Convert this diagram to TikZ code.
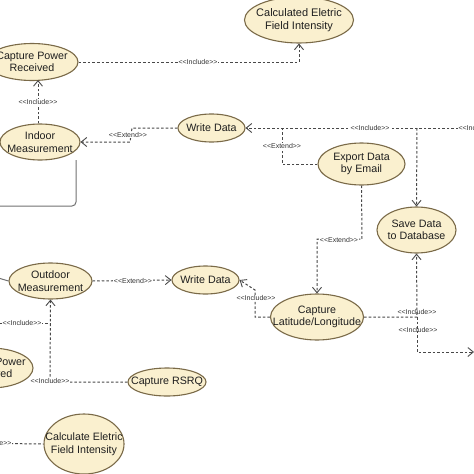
\documentclass[tikz,border=0pt]{standalone}
\usepackage{fontspec}
\setmainfont{Liberation Sans}
\newfontfamily\labfont{Liberation Sans}
\usetikzlibrary{shapes.geometric,arrows.meta}
\definecolor{ucfill}{HTML}{FAF0CF}
\definecolor{ucdraw}{HTML}{7A6A48}
\definecolor{lnc}{HTML}{484848}
\definecolor{boxc}{HTML}{707070}
\begin{document}
\begin{tikzpicture}[x=1pt,y=-1pt,
  uc/.style={ellipse, draw=ucdraw, fill=ucfill, line width=1.1pt, inner sep=0pt},
  uct/.style={align=center, font=\fontsize{10.7}{12.5}\selectfont, text=black!88, inner sep=0pt},
  rel/.style={draw=lnc, dash pattern=on 2.6pt off 2pt, line width=1pt},
  arr/.style={-{Straight Barb[length=5.5pt,width=9pt,line width=0.9pt]}},
  lab/.style={font=\labfont\fontsize{7}{8}\selectfont, text=black!80, inner sep=0.6pt},
  labf/.style={lab, fill=white},
  boxline/.style={draw=boxc, line width=1pt, rounded corners=4pt}
]
\useasboundingbox (0,0) rectangle (474,474);
\clip (0,0) rectangle (474,474);

% use cases
\node[uc, minimum width=109, minimum height=46, label={[uct,font=\fontsize{11}{12.5}\selectfont]center:{Calculated Eletric\\Field Intensity}}] (cefi1) at (299,20) {};
\node[uc, minimum width=92, minimum height=37, label={[uct]center:{Capture Power\\Received}}] (cpr1) at (32,62) {};
\node[uc, minimum width=80, minimum height=36, label={[uct]center:{Indoor\\Measurement}}] (ind) at (40,142) {};
\node[uc, minimum width=67, minimum height=28, label={[uct]center:{Write Data}}] (wd1) at (211.5,128) {};
\node[uc, minimum width=87, minimum height=42, label={[uct]center:{Export Data\\by Email}}] (exp) at (361.5,164) {};
\node[uc, minimum width=79, minimum height=46, label={[uct]center:{Save Data\\to Database}}] (save) at (416.5,230) {};
\node[uc, minimum width=83, minimum height=36, label={[uct]center:{Outdoor\\Measurement}}] (out) at (50.5,281) {};
\node[uc, minimum width=67, minimum height=28, label={[uct]center:{Write Data}}] (wd2) at (205.5,280) {};
\node[uc, minimum width=93, minimum height=46, label={[uct]center:{Capture\\Latitude/Longitude}}] (cll) at (317,317) {};
\node[uc, minimum width=86, minimum height=40, label={[uct]center:{Capture Power\\Received}}] (cpr2) at (-10,368) {};
\node[uc, minimum width=78, minimum height=28, label={[uct]center:{Capture RSRQ}}] (rsrq) at (167,382) {};
\node[uc, minimum width=80, minimum height=60, label={[uct]center:{Calculate Eletric\\Field Intensity}}] (cefi2) at (84,444) {};

% solid lines
\coordinate (bx1) at (76,160);
\coordinate (bx2) at (-5,206);
\draw[boxline] (bx1) |- (bx2);
\coordinate (actL) at (-5,277);
\draw[draw=boxc, line width=1pt] (actL) -- (out.west);

% connector coordinates
\coordinate (a1) at (299,62);
\coordinate (c1) at (132,128);
\coordinate (c2) at (130,142);
\coordinate (rt) at (500,128);
\coordinate (j1) at (417,128);
\coordinate (e1) at (282,164);
\coordinate (e2) at (282,128);
\coordinate (f1) at (362,239);
\coordinate (f2) at (317,239);
\coordinate (g1) at (417,317);
\coordinate (g2) at (417,352);
\coordinate (g3) at (474,352);
\coordinate (h1) at (255,317);
\coordinate (h2) at (255,290);
\coordinate (j2) at (50,382);
\coordinate (k1) at (-10,323);
\coordinate (k2) at (50,323);
\coordinate (m1) at (-40,443);

% connectors
\draw[rel,arr] (cpr1.east) -- (a1) -- (cefi1.south);
\draw[rel,arr] (ind.north) ++(-2,0) -- (38,80);
\draw[rel,arr] (wd1.west) -- (c1) -- (c2) -- (ind.east);
\draw[rel,arr] (rt) -- (wd1.east);
\draw[rel,arr] (j1) -- (save.north);
\draw[rel] (exp.west) -- (e1) -- (e2);
\draw[rel,arr] (exp.south) -- (f1) -- (f2) -- (cll.north);
\draw[rel,arr] (cll.east) -- (g1) -- (save.south);
\draw[rel,arr] (g1) -- (g2) -- (g3);
\draw[rel,arr] (cll.west) -- (h1) -- (h2) -- (wd2.east);
\draw[rel,arr] (out.east) -- (wd2.west);
\draw[rel,arr] (rsrq.west) -- (j2) -- (out.south);
\draw[rel] (k1) -- (k2);
\draw[rel] (m1) -- (cefi2.west);

% labels
\node[labf] (lA) at (198,62) {<<Include>>};
\node[labf] (lB) at (38,102) {<<Include>>};
\node[labf] (lC) at (128,135) {<<Extend>>};
\node[labf] (lD) at (370,128) {<<Include>>};
\node[labf] (lD2) at (478,128) {<<Include>>};
\node[labf] (lE) at (282,146) {<<Extend>>};
\node[labf] (lF) at (339,240) {<<Extend>>};
\node[lab] (lG) at (417,312) {<<Include>>};
\node[lab] (lG2) at (418,330) {<<Include>>};
\node[labf] (lH) at (256,298) {<<Include>>};
\node[labf] (lI) at (133,281) {<<Extend>>};
\node[labf] (lJ) at (50,381) {<<Include>>};
\node[labf] (lK) at (22,323) {<<Include>>};
\node[labf] (lM) at (-8,443) {<<Include>>};
\end{tikzpicture}
\end{document}
